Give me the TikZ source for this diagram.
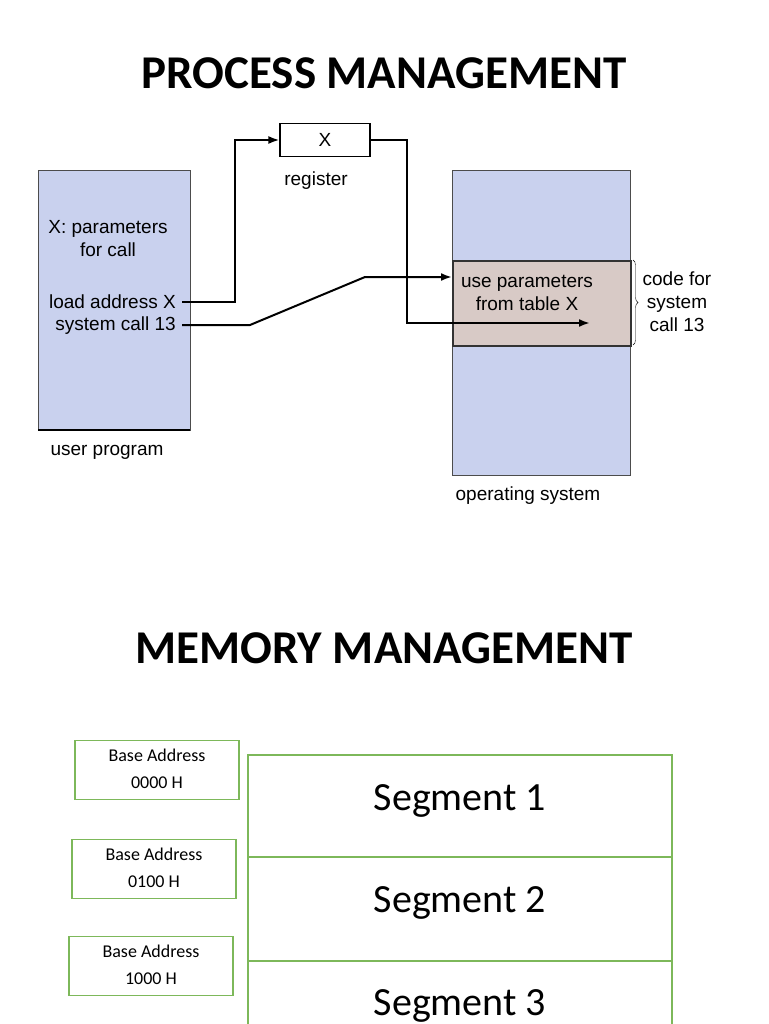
\documentclass[tikz,border=0pt]{standalone}
\usepackage{fontspec}
\setmainfont{Liberation Sans}
\newfontfamily\carlitofont{Carlito}
\usetikzlibrary{decorations.pathreplacing,arrows.meta}
\definecolor{bluefill}{HTML}{C9D1EE}
\definecolor{tanfill}{HTML}{D8CAC6}
\definecolor{grn}{HTML}{7DB85A}
\begin{document}
\begin{tikzpicture}[x=1pt,y=-1pt,
  lbl/.style={font=\fontsize{19}{23}\selectfont,align=center,inner sep=0},
  arr/.style={line width=2pt,-{Latex[length=11pt,width=8pt]}},
  title/.style={font=\carlitofont\bfseries\fontsize{47}{52}\selectfont},
  base/.style={draw=grn,line width=1.2pt,minimum width=164pt,minimum height=59pt},
  bt/.style={font=\carlitofont\fontsize{18}{20}\selectfont},
  seg/.style={font=\carlitofont\fontsize{40}{44}\selectfont}]
\useasboundingbox (0,0) rectangle (768,1024);
\node[title] (t1) at (384,73) {PROCESS MANAGEMENT};
\node[title] (t2) at (384,648) {MEMORY MANAGEMENT};
% user program
\node[draw=black!70,fill=bluefill,minimum width=152pt,minimum height=260pt,anchor=north west,inner sep=0] (up) at (38,170) {};
\draw[line width=2pt] (38,430) -- (190,430);
\node[lbl] (x1) at (108,239) {X: parameters\\for call};
\node[lbl,anchor=east] (la) at (176,302) {load address X};
\node[lbl,anchor=east] (sc) at (176,326) {system call 13};
\node[lbl] (upl) at (107,452) {user program};
% register
\node[draw,line width=1.2pt,minimum width=90pt,minimum height=33pt,inner sep=0] (reg) at (325,140) {\fontsize{19}{23}\selectfont X};
\node[lbl] (regl) at (316,181) {register};
% OS
\node[draw=black!70,fill=bluefill,minimum width=178pt,minimum height=305pt,anchor=north west,inner sep=0] (os) at (452,170) {};
\node[draw=black!80,line width=1.5pt,fill=tanfill,minimum width=178pt,minimum height=85pt,anchor=north west,inner sep=0] (band) at (452,260) {};
\node[lbl] (btx) at (527,293) {use parameters\\from table X};
\node[lbl] (osl) at (528,496) {operating system};
\draw[decorate,decoration={brace,amplitude=5pt}] (633,260) -- (633,345) coordinate[pos=0.5] (bm);
\node[lbl] (cf) at (677,302) {code for\\system\\call 13};
% arrows
\coordinate (a1) at (182,302);
\coordinate (a2) at (182,325);
\coordinate (tip2) at (590,323);
\draw[arr] (a1) -- (235,302) -- (235,140) -- (reg.west);
\draw[arr] (reg.east) -- (407,140) -- (407,323) -- (tip2);
\draw[arr] (a2) -- (250,325) -- (365,277) -- (band.west |- 0,277);
% memory
\node[base] (b1) at (157,770) {};
\node[base] (b2) at (154,869) {};
\node[base] (b3) at (151,966) {};
\foreach \n/\v in {b1/0000 H,b2/0100 H,b3/1000 H}{
  \node[bt] at ([yshift=15pt]\n.center) {Base Address};
  \node[bt] at ([yshift=-13pt]\n.center) {\v};
}
\draw[grn,line width=1.2pt] (248,1030) -- (248,755) -- (672,755) -- (672,1030);
\draw[grn,line width=1.2pt] (248,857) -- (672,857) (248,961) -- (672,961);
\node[seg] (s1) at (460,801) {Segment 1};
\node[seg] (s2) at (460,903) {Segment 2};
\node[seg] (s3) at (460,1006) {Segment 3};
\end{tikzpicture}
\end{document}
